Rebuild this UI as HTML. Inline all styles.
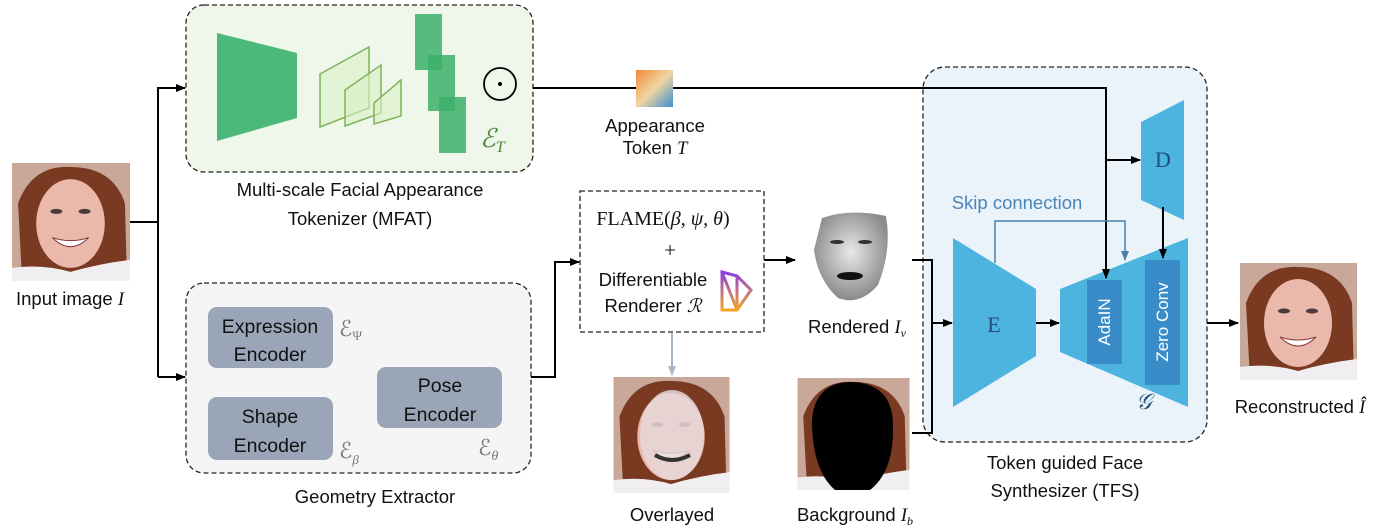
<!DOCTYPE html>
<html><head><meta charset="utf-8"><style>
html,body{margin:0;padding:0;background:#fff}
svg{display:block}
text{font-family:"Liberation Sans",sans-serif;font-size:18.5px;fill:#111}
.s{font-family:"Liberation Serif",serif}
</style></head><body>
<svg width="1380" height="530" viewBox="0 0 1380 530" xmlns="http://www.w3.org/2000/svg">
<defs>
<marker id="a" markerWidth="10" markerHeight="10" refX="9" refY="5" orient="auto" markerUnits="userSpaceOnUse"><path d="M0,1 L10,5 L0,9z" fill="#000"/></marker>
<marker id="ag" markerWidth="10" markerHeight="10" refX="9" refY="5" orient="auto" markerUnits="userSpaceOnUse"><path d="M0,1 L10,5 L0,9z" fill="#a9b6c8"/></marker>
<marker id="ab" markerWidth="10" markerHeight="10" refX="9" refY="5" orient="auto" markerUnits="userSpaceOnUse"><path d="M0,1 L10,5 L0,9z" fill="#4a7fa8"/></marker>
<linearGradient id="tok" x1="0" y1="0" x2="1" y2="1"><stop offset="0" stop-color="#f08a3c"/><stop offset="0.5" stop-color="#f0d6a0"/><stop offset="1" stop-color="#3a8fd0"/></linearGradient>
<linearGradient id="rg" x1="0" y1="0" x2="0" y2="1"><stop offset="0" stop-color="#8b3fe0"/><stop offset="1" stop-color="#f5a623"/></linearGradient>
<radialGradient id="gf" cx="0.5" cy="0.45" r="0.55"><stop offset="0" stop-color="#e8e8e8"/><stop offset="1" stop-color="#8a8a8a"/></radialGradient>
<symbol id="face" viewBox="0 0 117 117">
<rect width="117" height="117" fill="#c9a89a"/>
<path d="M10,117 L6,40 Q20,2 58,4 Q100,4 112,40 L114,117z" fill="#7a3a22"/>
<ellipse cx="58" cy="60" rx="34" ry="44" fill="#ebb8ac"/>
<path d="M0,104 Q30,100 58,108 Q85,100 117,96 L117,117 L0,117z" fill="#f1eef2"/>
<ellipse cx="44" cy="48" rx="6" ry="2.5" fill="#4a3a3a"/><ellipse cx="72" cy="48" rx="6" ry="2.5" fill="#4a3a3a"/>
<path d="M40,74 Q58,92 76,74 Q58,80 40,74z" fill="#fff" stroke="#8a3a3a"/>
</symbol>
</defs>

<!-- MFAT -->
<rect x="186" y="5" width="347" height="167" rx="18" fill="#eef7ea" stroke="#222" stroke-dasharray="5,3" stroke-width="1.3"/>
<polygon points="217,33 297,53 297,118 217,141" fill="#4cb97a"/>
<g fill="#d8f0c4" fill-opacity="0.6" stroke="#7fb25a" stroke-width="1.5">
<polygon points="320,74 369,47 369,108 320,127"/>
<polygon points="345,90 381,65 381,113 345,126"/>
<polygon points="374,103 401,80 401,116 374,124"/>
</g>
<g fill="#3db06b" fill-opacity="0.85">
<rect x="415" y="14" width="27" height="56"/><rect x="428" y="55" width="27" height="56"/><rect x="439" y="97" width="27" height="56"/>
</g>
<circle cx="500" cy="84" r="16" fill="none" stroke="#000" stroke-width="1.8"/><circle cx="500" cy="84" r="2" fill="#000"/>
<text x="480" y="147" class="s" style="font-size:26px;fill:#4a8a3a;font-style:italic">ℰ<tspan style="font-size:16px" dy="5">T</tspan></text>
<text x="360" y="196" text-anchor="middle">Multi-scale Facial Appearance</text>
<text x="360" y="225" text-anchor="middle">Tokenizer (MFAT)</text>

<!-- Geometry -->
<rect x="186" y="283" width="345" height="190" rx="18" fill="#f5f5f5" stroke="#222" stroke-dasharray="5,3" stroke-width="1.3"/>
<g fill="#9aa5b8"><rect x="208" y="307" width="125" height="61" rx="9"/><rect x="208" y="397" width="125" height="63" rx="9"/><rect x="377" y="367" width="125" height="61" rx="9"/></g>
<g style="font-size:19.5px"><text x="270" y="333" text-anchor="middle" style="font-size:19.5px">Expression</text><text x="270" y="361" text-anchor="middle" style="font-size:19.5px">Encoder</text>
<text x="270" y="423" text-anchor="middle" style="font-size:19.5px">Shape</text><text x="270" y="452" text-anchor="middle" style="font-size:19.5px">Encoder</text>
<text x="440" y="392" text-anchor="middle" style="font-size:19.5px">Pose</text><text x="440" y="421" text-anchor="middle" style="font-size:19.5px">Encoder</text></g>
<text x="339" y="336" class="s" style="font-size:22px;fill:#777">ℰ<tspan style="font-size:13px" dy="4">Ψ</tspan></text>
<text x="339" y="458" class="s" style="font-size:22px;fill:#777">ℰ<tspan style="font-size:13px;font-style:italic" dy="6">β</tspan></text>
<text x="478" y="455" class="s" style="font-size:22px;fill:#777">ℰ<tspan style="font-size:14px;font-style:italic" dy="5">θ</tspan></text>
<text x="375" y="503" text-anchor="middle">Geometry Extractor</text>

<!-- input -->
<use href="#face" x="12" y="163" width="118" height="118"/>
<text x="70" y="305" text-anchor="middle">Input image <tspan class="s" font-style="italic">I</tspan></text>
<g fill="none" stroke="#000" stroke-width="2">
<path d="M130,222 H158"/>
<path d="M158,377 V88 H185" marker-end="url(#a)"/>
<path d="M158,377 H185" marker-end="url(#a)"/>
<path d="M533,88 H636"/>
<path d="M531,377 H555 V262 H579" marker-end="url(#a)"/>
<path d="M764,260 H795" marker-end="url(#a)"/>
<path d="M1188,323 H1238" marker-end="url(#a)"/>
</g>

<!-- token -->
<rect x="636" y="70" width="37" height="37" fill="url(#tok)"/>
<text x="655" y="132" text-anchor="middle">Appearance</text>
<text x="655" y="154" text-anchor="middle">Token <tspan class="s" font-style="italic">T</tspan></text>

<!-- FLAME -->
<rect x="580" y="191" width="184" height="141" fill="#fff" stroke="#222" stroke-dasharray="5,3" stroke-width="1.3"/>
<text x="663" y="225" text-anchor="middle" class="s" style="font-size:20px">FLAME(<tspan font-style="italic">β, ψ, θ</tspan>)</text>
<text x="670" y="257" text-anchor="middle" class="s" style="font-size:21px">+</text>
<text x="653" y="286" text-anchor="middle">Differentiable</text>
<text x="653" y="312" text-anchor="middle">Renderer <tspan class="s" font-style="italic">ℛ</tspan></text>
<path d="M722,272 L737,276 L751,290 L737,310 L722,310 Z M722,272 L737,310 M737,276 L737,310" fill="none" stroke="url(#rg)" stroke-width="3"/>
<path d="M672,333 V375" stroke="#a9b6c8" stroke-width="2" marker-end="url(#ag)"/>

<!-- rendered -->
<path d="M822,218 Q850,208 886,216 Q892,250 878,285 Q860,306 838,298 Q818,280 814,250 Z" fill="url(#gf)"/>
<ellipse cx="837" cy="242" rx="7" ry="2" fill="#333"/><ellipse cx="865" cy="242" rx="7" ry="2" fill="#333"/>
<ellipse cx="850" cy="276" rx="13" ry="4" fill="#111"/>
<text x="857" y="333" text-anchor="middle">Rendered <tspan class="s" font-style="italic">I<tspan font-size="12" dy="4">v</tspan></tspan></text>

<use href="#face" x="613" y="377" width="117" height="116"/>
<ellipse cx="672" cy="435" rx="32" ry="45" fill="#e6d8d8" opacity="0.85"/>
<path d="M655,455 Q672,465 690,455" stroke="#333" stroke-width="4" fill="none"/>
<text x="672" y="521" text-anchor="middle">Overlayed</text>
<use href="#face" x="795" y="378" width="117" height="112"/>
<path d="M812,420 Q815,382 852,382 Q895,384 893,430 Q893,472 870,490 L835,490 Q812,470 812,420z" fill="#000"/>
<text x="855" y="521" text-anchor="middle">Background <tspan class="s" font-style="italic">I<tspan font-size="12" dy="4">b</tspan></tspan></text>

<!-- TFS -->
<rect x="923" y="67" width="284" height="375" rx="22" fill="#eaf2fa" stroke="#222" stroke-dasharray="5,3" stroke-width="1.3"/>
<polygon points="1141,122 1184,100 1184,220 1141,200" fill="#4db3df"/>
<text x="1163" y="167" text-anchor="middle" class="s" style="font-size:22px;fill:#1f4f7a">D</text>
<polygon points="953,238 1036,289 1036,356 953,407" fill="#4db3df"/>
<text x="994" y="332" text-anchor="middle" class="s" style="font-size:22px;fill:#1f4f7a">E</text>
<polygon points="1060,289 1188,238 1188,407 1060,352" fill="#4db3df"/>
<rect x="1087" y="280" width="35" height="84" fill="#3a8cc8"/>
<rect x="1145" y="260" width="35" height="125" fill="#3a8cc8"/>
<text transform="translate(1110,322) rotate(-90)" text-anchor="middle" style="fill:#fff;font-size:17px">AdaIN</text>
<text transform="translate(1168,322) rotate(-90)" text-anchor="middle" style="fill:#fff;font-size:17px">Zero Conv</text>
<g fill="none" stroke="#000" stroke-width="2">
<path d="M912,260 H932 V433 H912"/>
<path d="M932,323 H952" marker-end="url(#a)"/>
<path d="M673,88 H1106 V278" marker-end="url(#a)"/>
<path d="M1106,160 H1140" marker-end="url(#a)"/>
<path d="M1163,207 V258" marker-end="url(#a)"/>
<path d="M1036,323 H1059" marker-end="url(#a)"/>
</g>
<path d="M995,263 V221 H1125 V260" fill="none" stroke="#4a7fa8" stroke-width="1.5" marker-end="url(#ab)"/>
<text x="1017" y="209" text-anchor="middle" style="fill:#4a86b8">Skip connection</text>
<text x="1136" y="409" class="s" style="font-size:22px;fill:#1f4f7a;font-style:italic">𝒢</text>
<text x="1065" y="469" text-anchor="middle">Token guided Face</text>
<text x="1065" y="497" text-anchor="middle">Synthesizer (TFS)</text>

<use href="#face" x="1240" y="263" width="117" height="117"/>
<text x="1300" y="413" text-anchor="middle">Reconstructed <tspan class="s" font-style="italic">Î</tspan></text>
</svg>
</body></html>
